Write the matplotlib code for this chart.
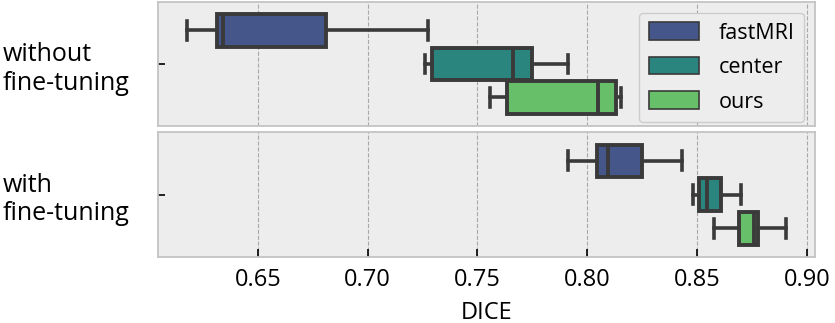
#!/usr/bin/env python3
"""Horizontal box plots of DICE with / without fine-tuning."""
import matplotlib
matplotlib.use("Agg")
import matplotlib.pyplot as plt
from matplotlib.patches import Patch

plt.rcParams['font.family'] = ['Open Sans', 'DejaVu Sans']

# ---------------- data ----------------
methods = ["fastMRI", "center", "ours"]
groups = ["without\nfine-tuning", "with\nfine-tuning"]
colors = ["#45568a", "#2b857f", "#67bf69"]

# per group, per method: [whislo, q1, median, q3, whishi]
without_ft = [
    [0.618, 0.6315, 0.634, 0.681, 0.7277],
    [0.726, 0.7295, 0.766, 0.775, 0.7914],
    [0.7555, 0.7636, 0.805, 0.813, 0.8155],
]
with_ft = [
    [0.7914, 0.8045, 0.8095, 0.825, 0.843],
    [0.848, 0.851, 0.8545, 0.861, 0.870],
    [0.8577, 0.869, 0.876, 0.8777, 0.8905],
]
xticks = [0.65, 0.70, 0.75, 0.80, 0.85, 0.90]

BG = "#ededed"
EDGE = "#3a3a3a"


def draw_group(ax, rows, label):
    stats = []
    for name, r in zip(methods, rows):
        stats.append({"label": name, "whislo": r[0], "q1": r[1],
                      "med": r[2], "q3": r[3], "whishi": r[4], "fliers": []})
    pos = [-0.27, 0.0, 0.27]
    bp = ax.bxp(stats, positions=pos, widths=0.26, vert=False,
                patch_artist=True, showfliers=False, capwidths=0.15,
                boxprops=dict(edgecolor=EDGE, linewidth=2.8),
                medianprops=dict(color=EDGE, linewidth=2.8),
                whiskerprops=dict(color=EDGE, linewidth=2.6),
                capprops=dict(color=EDGE, linewidth=2.6))
    for patch, c in zip(bp["boxes"], colors):
        patch.set_facecolor(c)
    ax.set_facecolor(BG)
    ax.set_ylim(0.5, -0.5)
    ax.set_xlim(0.6045, 0.9036)
    ax.set_yticks([0])
    ax.set_yticklabels([label], fontsize=18, ha="left",
                       multialignment="left", linespacing=1.2)
    # labels start at the left edge of the figure
    ax.tick_params(axis="y", direction="in", length=5, width=1.2, pad=112)
    ax.set_xticks(xticks)
    ax.grid(axis="x", linestyle="--", color="#a8a8a8", linewidth=0.8)
    ax.set_axisbelow(True)
    for s in ax.spines.values():
        s.set_color("#c4c4c4")
        s.set_linewidth(1.3)


fig = plt.figure(figsize=(8.35, 3.23), dpi=100)
ax1 = fig.add_axes([0.189, 0.61, 0.787, 0.384])
ax2 = fig.add_axes([0.189, 0.204, 0.787, 0.387])

draw_group(ax1, without_ft, groups[0])
draw_group(ax2, with_ft, groups[1])

ax1.tick_params(axis="x", length=0, labelbottom=False)
ax2.tick_params(axis="x", direction="in", length=6, width=1.2,
                labelsize=17, pad=8)
ax2.set_xticklabels(["%.2f" % t for t in xticks])
ax2.set_xlabel("DICE", fontsize=17, labelpad=6)

handles = [Patch(facecolor=c, edgecolor=EDGE, linewidth=1.2) for c in colors]
leg = ax1.legend(handles, methods, loc="upper right", fontsize=15.5,
                 handlelength=2.35, handleheight=0.87, handletextpad=0.9,
                 labelspacing=0.62, borderpad=0.45, frameon=True,
                 facecolor=BG, edgecolor="#cccccc", framealpha=1,
                 bbox_to_anchor=(1.0, 1.0))

fig.savefig("out.png", dpi=100)
